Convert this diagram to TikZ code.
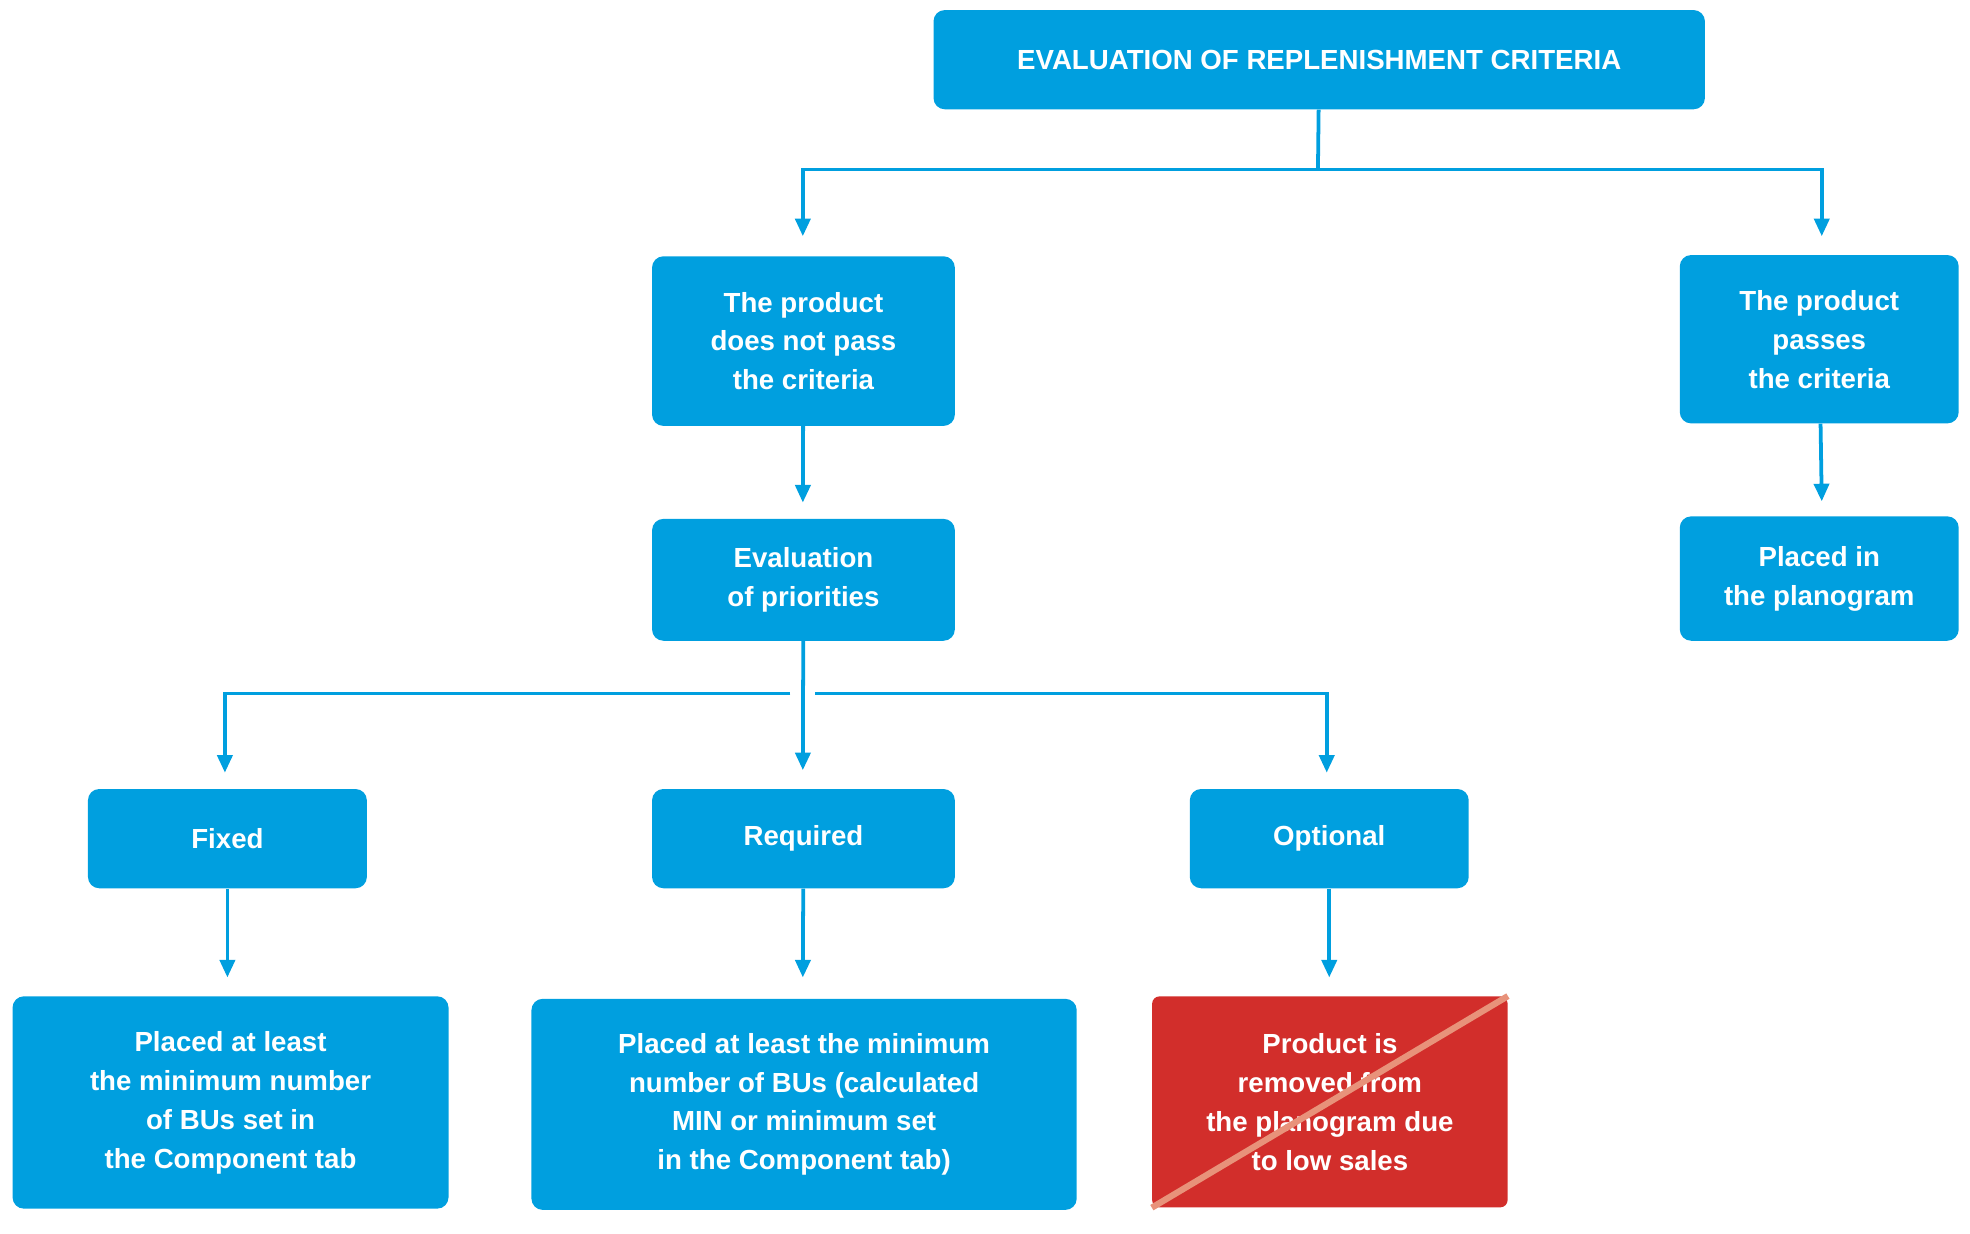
\documentclass[tikz,border=0pt]{standalone}
\usepackage{fontspec}
\setmainfont{Liberation Sans}
\usetikzlibrary{arrows.meta}
\definecolor{boxblue}{HTML}{009FDF}
\definecolor{boxred}{HTML}{D22E2B}
\definecolor{strike}{HTML}{E8927A}
\begin{document}
\begin{tikzpicture}[
    x=1pt, y=-1pt,
    box/.style={fill=boxblue, rounded corners=9pt, text=white, align=center,
        font=\fontsize{22}{31}\selectfont\bfseries, inner sep=0pt},
    link/.style={draw=boxblue, line width=3pt, -{Triangle[length=14pt,width=12pt]}},
    line/.style={draw=boxblue, line width=3pt}
]
\useasboundingbox (0,0) rectangle (1568,982);
\node [box, minimum width=614pt, minimum height=79pt] (top) at (1050,47.5) {EVALUATION OF REPLENISHMENT CRITERIA};
\node [box, minimum width=241pt, minimum height=135pt] (fail) at (639.5,271.5) {The product\\does not pass\\the criteria};
\node [box, minimum width=222pt, minimum height=134pt] (pass) at (1448,270) {The product\\passes\\the criteria};
\node [box, minimum width=222pt, minimum height=99pt] (placed) at (1448,460.5) {Placed in\\the planogram};
\node [box, minimum width=241pt, minimum height=97pt] (prio) at (639.5,461.5) {Evaluation\\of priorities};
\node [box, minimum width=222pt, minimum height=79pt] (fixed) at (181,667.5) {Fixed};
\node [box, minimum width=241pt, minimum height=79pt] (req) at (639.5,667.5) {Required};
\node [box, minimum width=222pt, minimum height=79pt] (opt) at (1058,667.5) {Optional};
\node [box, minimum width=347pt, minimum height=169pt] (fixedres) at (183.5,877.5) {Placed at least\\the minimum number\\of BUs set in\\the Component tab};
\node [box, minimum width=434pt, minimum height=168pt] (reqres) at (640,879) {Placed at least the minimum\\number of BUs (calculated\\MIN or minimum set\\in the Component tab)};
\node [box, fill=boxred, rounded corners=6pt, minimum width=283pt, minimum height=168pt] (optres) at (1058.5,877) {Product is\\removed from\\the planogram due\\to low sales};
\draw [draw=strike, line width=5pt] (optres.south west) -- (optres.north east);

% top split
\coordinate (split) at (1049,135);
\draw [line] (top) -- (split);
\draw [link] (split) -| (639,188);
\draw [link] (split) -| (1450,188);
\draw [link] (fail) -- (639,400);
\draw [link] (pass) -- (1450,399);

% priorities split
\coordinate (psplit) at (639,552);
\draw [link] (prio) -- (639,613);
\draw [link] (629,552) -| (179,615);
\draw [link] (649,552) -| (1056,615);
\draw [link] (fixed) -- (181,778);
\draw [link] (req) -- (639,778);
\draw [link] (opt) -- (1058,778);
\end{tikzpicture}
\end{document}
